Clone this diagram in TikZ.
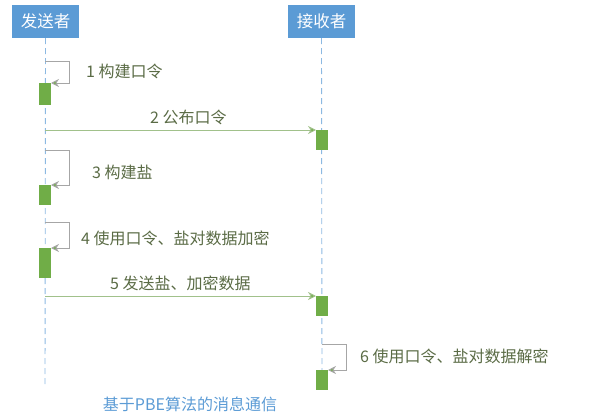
\documentclass[tikz,border=0pt]{standalone}
\usepackage{fontspec}
\setmainfont{Noto Sans CJK SC}
\usetikzlibrary{arrows.meta}
\definecolor{hdr}{HTML}{5B9BD5}
\definecolor{bar}{HTML}{70AD47}
\definecolor{msg}{HTML}{A9D18E}
\definecolor{lbl}{HTML}{5A6B45}
\tikzset{
 head/.style={fill=hdr,text=white,minimum width=67pt,minimum height=33pt,inner sep=0pt,font=\fontsize{16.5}{18}\selectfont},
 life/.style={hdr!70,dash pattern=on 6pt off 4pt,line width=0.9pt},
 actbar/.style={fill=bar,draw=none},
 call/.style={msg!80!gray,line width=0.9pt,-{Stealth[length=8pt,width=8pt,fill=bar]}},
 loop/.style={gray!70,line width=0.9pt,-{Stealth[length=8pt,width=8pt,fill=bar]}},
 lab/.style={text=lbl,font=\fontsize{16}{18}\selectfont,anchor=west,inner sep=0pt}
}
\begin{document}
\begin{tikzpicture}[x=1pt,y=-1pt]
\useasboundingbox (0,0) rectangle (616,415);
\node[head] (s) at (45.5,21.5) {发送者};
\node[head] (r) at (321.5,21.5) {接收者};
\coordinate (se) at (45,385); \coordinate (re) at (322,385);
\draw[life] (s.south) -- (se);
\draw[life] (r.south) -- (re);
% bars
\path[actbar] (39,83) rectangle (51,105);
\path[actbar] (316,130) rectangle (328,150);
\path[actbar] (39,185) rectangle (51,205);
\path[actbar] (39,248) rectangle (51,278);
\path[actbar] (316,296) rectangle (328,316);
\path[actbar] (316,370) rectangle (328,390);
\coordinate (b1) at (51,83); \coordinate (b2) at (316,130);
\coordinate (b3) at (51,185); \coordinate (b4) at (51,248);
\coordinate (b5) at (316,296); \coordinate (b6) at (328,370);
\coordinate (l1) at (45,61); \coordinate (l3) at (45,150);
\coordinate (l4) at (45,222); \coordinate (l6) at (322,344);
\coordinate (m2) at (45,130); \coordinate (m5) at (45,296);
\draw[loop] (l1) -- (69,61) -- (69,83) -- (b1);
\draw[loop] (l3) -- (69,150) -- (69,185) -- (b3);
\draw[loop] (l4) -- (69,222) -- (69,248) -- (b4);
\draw[loop] (l6) -- (346,344) -- (346,370) -- (b6);
\draw[call] (m2) -- (b2);
\draw[call] (m5) -- (b5);
\node[lab] (t1) at (86,71) {1 构建口令};
\node[lab] (t2) at (150,117) {2 公布口令};
\node[lab] (t3) at (92,172) {3 构建盐};
\node[lab] (t4) at (81,238) {4 使用口令、盐对数据加密};
\node[lab] (t5) at (110,283) {5 发送盐、加密数据};
\node[lab] (t6) at (360,356) {6 使用口令、盐对数据解密};
\node[text=hdr,font=\fontsize{16}{18}\selectfont] (cap) at (190,404) {基于PBE算法的消息通信};
\end{tikzpicture}
\end{document}
